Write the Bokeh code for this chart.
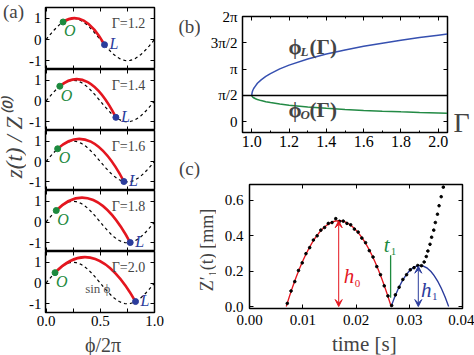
import math
from bokeh.plotting import figure
from bokeh.layouts import row, column
from bokeh.models import (Range1d, Label, LinearAxis, FixedTicker, SingleIntervalTicker,
                          PrintfTickFormatter, Arrow, VeeHead, Span)
from bokeh.embed import file_html
from bokeh.resources import INLINE

# ---------------- data: panel (a) ----------------
phase = [0.0, 0.025, 0.05, 0.075, 0.1, 0.125, 0.15, 0.175, 0.2, 0.225, 0.25,
         0.275, 0.3, 0.325, 0.35, 0.375, 0.4, 0.425, 0.45, 0.475, 0.5,
         0.525, 0.55, 0.575, 0.6, 0.625, 0.65, 0.675, 0.7, 0.725, 0.75,
         0.775, 0.8, 0.825, 0.85, 0.875, 0.9, 0.925, 0.95, 0.975, 1.0]
sine = [0.0, 0.156, 0.309, 0.454, 0.588, 0.707, 0.809, 0.891, 0.951, 0.988, 1.0,
        0.988, 0.951, 0.891, 0.809, 0.707, 0.588, 0.454, 0.309, 0.156, 0.0,
        -0.156, -0.309, -0.454, -0.588, -0.707, -0.809, -0.891, -0.951, -0.988, -1.0,
        -0.988, -0.951, -0.891, -0.809, -0.707, -0.588, -0.454, -0.309, -0.156, 0.0]
gammas = [1.2, 1.4, 1.6, 1.8, 2.0]
O_x = [0.157, 0.127, 0.107, 0.094, 0.083]
O_z = [0.833, 0.714, 0.625, 0.556, 0.500]
L_x = [0.539, 0.644, 0.718, 0.776, 0.825]
L_z = [-0.243, -0.787, -0.980, -0.987, -0.892]
C_x = [0.348, 0.386, 0.413, 0.435, 0.454]   # control points of the flight parabolas
C_z = [1.497, 1.853, 2.123, 2.338, 2.517]

# ---------------- data: panel (b) ----------------
gamma_b = [1.0, 1.0005, 1.002, 1.005, 1.01, 1.02, 1.03, 1.05, 1.075, 1.1, 1.15,
           1.2, 1.3, 1.4, 1.5, 1.6, 1.7, 1.8, 1.9, 2.0, 2.05]
phi_L = [1.571, 1.665, 1.758, 1.865, 1.986, 2.145, 2.304, 2.506, 2.714, 2.881, 3.160,
         3.387, 3.753, 4.048, 4.297, 4.512, 4.704, 4.877, 5.036, 5.183, 5.252]
phi_O = [1.571, 1.539, 1.508, 1.471, 1.430, 1.372, 1.329, 1.261, 1.195, 1.141, 1.054,
         0.985, 0.878, 0.796, 0.730, 0.675, 0.629, 0.589, 0.554, 0.524, 0.510]
phi_ref = math.pi / 2
b_ticks = [0, math.pi / 2, math.pi, 3 * math.pi / 2, 2 * math.pi]
b_tick_labels = ["0", "π/2", "π", "3π/2", "2π"]

# ---------------- data: panel (c) ----------------
t_dots = [0.0071, 0.0078, 0.0085, 0.0092, 0.0099, 0.0106, 0.0113, 0.0120, 0.0127, 0.0134,
          0.0141, 0.0148, 0.0155, 0.0162, 0.0169, 0.0176, 0.0183, 0.0190, 0.0197, 0.0204,
          0.0211, 0.0218, 0.0225, 0.0232, 0.0239, 0.0246, 0.0253, 0.0260,
          0.0267, 0.0274, 0.0281, 0.0288, 0.0295, 0.0302, 0.0309, 0.0316, 0.0323,
          0.0328, 0.0332, 0.0335, 0.0339, 0.0342, 0.0346, 0.0349, 0.0353, 0.0356, 0.0360, 0.0364]
z_dots = [0.018, 0.088, 0.141, 0.204, 0.247, 0.299, 0.333, 0.376, 0.400, 0.432,
          0.447, 0.470, 0.475, 0.497, 0.482, 0.483, 0.470, 0.462, 0.438, 0.421,
          0.387, 0.361, 0.316, 0.280, 0.226, 0.180, 0.117, 0.060,
          0.006, 0.066, 0.109, 0.153, 0.180, 0.208, 0.220, 0.232, 0.231,
          0.252, 0.283, 0.314, 0.352, 0.392, 0.432, 0.475, 0.522, 0.570, 0.621, 0.675]
fit0_start, fit0_end, fit0_peak_t, h0 = 0.0069, 0.0266, 0.01675, 0.485
fit1_start, fit1_end, fit1_peak_t, h1 = 0.0266, 0.0374, 0.0320, 0.232
t1 = 0.0265

SERIF = "Liberation Serif"
RED = "#e4161f"
GREEN = "#1d8a3e"
BLUE = "#2b3c9c"
BLUE_B = "#3650b0"
GREEN_B = "#238a45"


def style_axis(ax, size, standoff, show=True):
    ax.major_tick_in = 4
    ax.major_tick_out = 0
    ax.minor_tick_in = 2
    ax.minor_tick_out = 0
    ax.axis_line_color = "black"
    ax.axis_line_width = 1
    ax.major_tick_line_color = "black"
    ax.minor_tick_line_color = "black"
    ax.major_label_text_font = SERIF
    if show:
        ax.major_label_text_color = "black"
        ax.major_label_text_font_size = size
        ax.major_label_standoff = standoff
    else:
        ax.major_label_text_color = None
        ax.major_label_text_font_size = "0px"
        ax.major_label_standoff = 0


def mirror(p, side, ticker):
    ax = LinearAxis(ticker=ticker)
    style_axis(ax, "0px", 0, show=False)
    p.add_layout(ax, side)


def base_fig(width, height, xr, yr, left, right, top, bottom):
    p = figure(width=width, height=height, x_range=xr, y_range=yr,
               output_backend="svg", toolbar_location=None,
               min_border=0, min_border_left=left, min_border_right=right,
               min_border_top=top, min_border_bottom=bottom)
    p.xgrid.visible = False
    p.ygrid.visible = False
    p.outline_line_color = "black"
    p.outline_line_width = 1.5
    p.background_fill_color = "white"
    p.border_fill_color = "white"
    return p


def strip(w, h):
    s = figure(width=w, height=h, x_range=Range1d(0, w), y_range=Range1d(0, h),
               output_backend="svg", toolbar_location=None, min_border=0,
               x_axis_type=None, y_axis_type=None)
    s.outline_line_color = None
    s.background_fill_color = "white"
    s.border_fill_color = "white"
    return s


def text(p, x, y, s, size, **kw):
    p.add_layout(Label(x=x, y=y, text=s, text_font=SERIF, text_font_size=size,
                       text_align=kw.pop("align", "center"),
                       text_baseline=kw.pop("baseline", "middle"), **kw))


# ---------------- left label strip ----------------
lab = strip(26, 355)
text(lab, 13, 344, "(a)", "19px")
text(lab, 14, 217, "z(t) / Z⁽⁰⁾", "23px", text_font_style="italic", angle=math.pi / 2)

# ---------------- panel (a) ----------------
heights = [69, 61, 60, 61, 81]
tops = [7, 0, 0, 0, 0]
bottoms = [0, 0, 0, 0, 20]
a_figs = []
for i, g in enumerate(gammas):
    last = i == len(gammas) - 1
    p = base_fig(140, heights[i], Range1d(-0.005, 1.0), Range1d(-1.42, 1.52),
                 19, 12, tops[i], bottoms[i])
    xt = FixedTicker(ticks=[0, 0.25, 0.5, 0.75, 1.0])
    yt = FixedTicker(ticks=[-1, 0, 1])
    p.xaxis.ticker = xt
    p.yaxis.ticker = yt
    style_axis(p.xaxis[0], "15px", 3, show=last)
    style_axis(p.yaxis[0], "15px", 4)
    p.xaxis.major_label_overrides = {0: "0.0", 0.25: "", 0.5: "0.5", 0.75: "", 1: "1.0"}
    p.yaxis.major_label_overrides = {-1: "-1", 0: "0", 1: "1"}
    mirror(p, "above", xt)
    mirror(p, "right", yt)

    p.line(phase, sine, line_dash="3 3", line_color="black", line_width=1.2)
    p.quadratic(x0=[O_x[i]], y0=[O_z[i]], x1=[L_x[i]], y1=[L_z[i]],
                cx=[C_x[i]], cy=[C_z[i]], line_color=RED, line_width=2.6)
    p.scatter([O_x[i]], [O_z[i]], size=6, color=GREEN)
    p.scatter([L_x[i]], [L_z[i]], size=6, color=BLUE)
    text(p, O_x[i], O_z[i], "O", "16px", align="left", x_offset=1, y_offset=-9,
         text_font_style="italic", text_color=GREEN)
    text(p, L_x[i], L_z[i], "L", "16px", align="left", x_offset=5, y_offset=1,
         text_font_style="italic", text_color=BLUE)
    text(p, 0.76, 0.75, f"Γ={g:.1f}", "14px")
    if last:
        text(p, 0.477, -0.27, "sin ϕ", "13px", text_color="#555555")
    a_figs.append(p)

phi_strip = strip(140, 23)
text(phi_strip, 74, 11, "ϕ/2π", "20px")
col_a = column(*a_figs, phi_strip)

# ---------------- panel (b) ----------------
pb = base_fig(251, 155, Range1d(0.95, 2.05), Range1d(-0.65, 6.30), 42, 4, 16, 23)
bxt = SingleIntervalTicker(interval=0.2, num_minor_ticks=2)
byt = FixedTicker(ticks=b_ticks)
pb.xaxis.ticker = bxt
pb.yaxis.ticker = byt
pb.xaxis.formatter = PrintfTickFormatter(format="%.1f")
style_axis(pb.xaxis[0], "16px", 3)
style_axis(pb.yaxis[0], "15px", 5)
pb.yaxis.major_label_overrides = dict(zip(b_ticks, b_tick_labels))
pb.yaxis.minor_tick_line_color = None
mirror(pb, "above", bxt)
mirror(pb, "right", byt)
pb.add_layout(Span(location=phi_ref, dimension="width", line_color="black", line_width=1.5))
pb.line(gamma_b, phi_L, line_color=BLUE_B, line_width=1.5)
pb.line(gamma_b, phi_O, line_color=GREEN_B, line_width=1.5)

for yy, sub in [(4.49, "L"), (0.72, "O")]:
    text(pb, 1.197, yy, "ϕ", "21px", align="left", text_font_style="bold")
    text(pb, 1.197, yy, sub, "13px", align="left", x_offset=12, y_offset=-5,
         text_font_style="bold italic")
    text(pb, 1.197, yy, "(Γ)", "21px", align="left", x_offset=21, text_font_style="bold")

sb_left = strip(34, 155)
text(sb_left, 23, 142, "(b)", "19px")
sb_right = strip(23, 155)
text(sb_right, 10, 13, "Γ", "28px")
row_b = row(sb_left, pb, sb_right)

# ---------------- panel (c) ----------------
pc = base_fig(258, 177, Range1d(0.0, 0.04), Range1d(-0.011, 0.69), 33, 12, 29, 24)
cxt = SingleIntervalTicker(interval=0.01, num_minor_ticks=0)
cyt = SingleIntervalTicker(interval=0.2, num_minor_ticks=0)
pc.xaxis.ticker = cxt
pc.yaxis.ticker = cyt
pc.xaxis.formatter = PrintfTickFormatter(format="%.2f")
pc.yaxis.formatter = PrintfTickFormatter(format="%.1f")
style_axis(pc.xaxis[0], "15px", 6)
style_axis(pc.yaxis[0], "15px", 6)
mirror(pc, "above", cxt)
mirror(pc, "right", cyt)

pc.quadratic(x0=[fit0_start], y0=[0], x1=[fit0_end], y1=[0], cx=[fit0_peak_t], cy=[2 * h0],
             line_color=RED, line_width=1.3)
pc.quadratic(x0=[fit1_start], y0=[0], x1=[fit1_end], y1=[0], cx=[fit1_peak_t], cy=[2 * h1],
             line_color=BLUE, line_width=1.3)
pc.scatter(t_dots, z_dots, size=2.6, color="black")

pc.add_layout(Arrow(start=VeeHead(size=7, fill_color=RED, line_color=RED),
                    end=VeeHead(size=7, fill_color=RED, line_color=RED),
                    x_start=fit0_peak_t, y_start=0.0, x_end=fit0_peak_t, y_end=h0,
                    line_color=RED, line_width=1))
pc.add_layout(Arrow(start=VeeHead(size=7, fill_color=BLUE, line_color=BLUE),
                    end=VeeHead(size=7, fill_color=BLUE, line_color=BLUE),
                    x_start=fit1_peak_t - 0.0003, y_start=0.0, x_end=fit1_peak_t - 0.0003,
                    y_end=h1 - 0.004, line_color=BLUE, line_width=1))
pc.segment(x0=[t1], y0=[0.05], x1=[t1], y1=[0.29], line_color=GREEN, line_width=1.3)


def sub_label(p, x, y, main, sub, color, sub_dx):
    text(p, x, y, main, "21px", align="left", text_font_style="italic", text_color=color)
    text(p, x, y, sub, "11px", align="left", x_offset=sub_dx, y_offset=-7, text_color=color)


sub_label(pc, 0.0177, 0.17, "h", "0", RED, 11)
sub_label(pc, 0.0252, 0.35, "t", "1", GREEN, 7)
sub_label(pc, 0.0322, 0.095, "h", "1", BLUE, 11)

sc_left = strip(50, 200)
text(sc_left, 23, 187, "(c)", "19px")
text(sc_left, 40, 110, "Z′₁(t)   [mm]", "18px", angle=math.pi / 2)
sc_bottom = strip(258, 23)
text(sc_bottom, 139, 12, "time [s]", "21px")
row_c = row(sc_left, column(pc, sc_bottom))

layout = row(lab, col_a, column(row_b, row_c))
open("out.html", "w").write(file_html(layout, INLINE))
